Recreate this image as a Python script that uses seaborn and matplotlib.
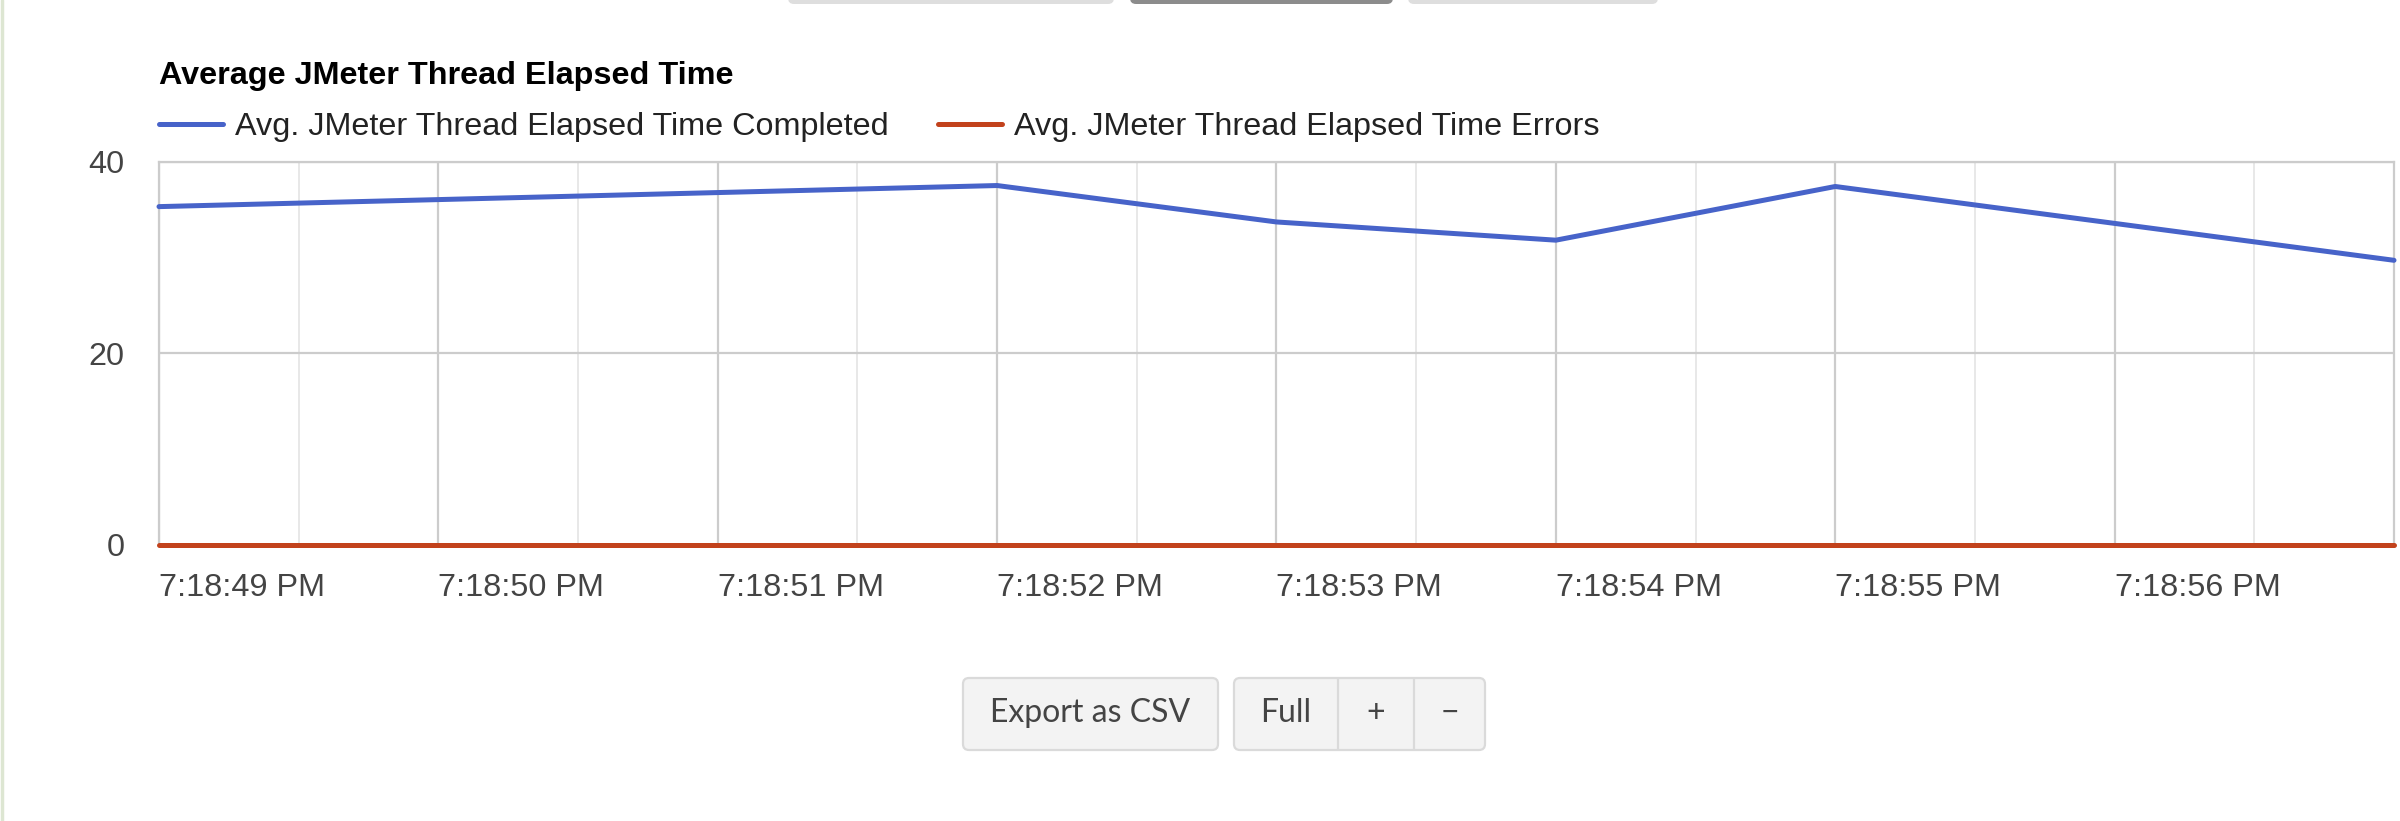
import pandas as pd
import matplotlib.pyplot as plt
from matplotlib.ticker import AutoMinorLocator
from matplotlib.patches import FancyBboxPatch
import seaborn as sns

# values
times = ['19:18:49', '19:18:52', '19:18:53', '19:18:54', '19:18:55', '19:18:57']
completed = [35.3, 37.5, 33.7, 31.8, 37.4, 29.7]
errors = [0, 0, 0, 0, 0, 0]
series_names = ['Avg. JMeter Thread Elapsed Time Completed',
                'Avg. JMeter Thread Elapsed Time Errors']
tick_times = ['19:18:49', '19:18:50', '19:18:51', '19:18:52',
              '19:18:53', '19:18:54', '19:18:55', '19:18:56']
tick_labels = ['7:18:49 PM', '7:18:50 PM', '7:18:51 PM', '7:18:52 PM',
               '7:18:53 PM', '7:18:54 PM', '7:18:55 PM', '7:18:56 PM']
y_ticks = [0, 20, 40]
title = 'Average JMeter Thread Elapsed Time'

day = '2024-01-01 '
df = pd.DataFrame({
    'time': pd.to_datetime([day + t for t in times] * 2),
    'value': completed + errors,
    'series': [series_names[0]] * len(times) + [series_names[1]] * len(times),
})

sns.set_style('white')
plt.rcParams['font.family'] = ['Liberation Sans', 'DejaVu Sans']

fig = plt.figure(figsize=(24, 8.21), dpi=100)

# page decoration layer in pixel coordinates
bg = fig.add_axes([0, 0, 1, 1], zorder=-1)
bg.set_xlim(0, 2400)
bg.set_ylim(821, 0)
bg.axis('off')
bg.plot([2, 2], [0, 821], color='#dde6d2', lw=2.5)
for x0, x1, c in [(788, 1114, '#dedede'), (1130, 1393, '#8c8c8c'), (1408, 1658, '#dedede')]:
    bg.add_patch(FancyBboxPatch((x0 + 6, -40), x1 - x0 - 12, 38,
                                boxstyle='round,pad=6', fc=c, ec='none'))
btn = dict(boxstyle='round,pad=0,rounding_size=6', fc='#f3f3f3', ec='#dadada', lw=1.6)
bg.add_patch(FancyBboxPatch((963, 678), 255, 72, **btn))
bg.add_patch(FancyBboxPatch((1234, 678), 251, 72, **btn))
bg.plot([1338, 1338], [679, 749], color='#dadada', lw=1.6)
bg.plot([1414, 1414], [679, 749], color='#dadada', lw=1.6)
bfont = dict(family=['Lato', 'DejaVu Sans'], fontsize=23, color='#444444',
             ha='center', va='center')
bg.text(1090, 713, 'Export as CSV', **bfont)
bg.text(1286, 713, 'Full', **bfont)
bg.text(1376, 713, '+', **bfont)
bg.text(1450, 713, '\u2212', **bfont)

ax = fig.add_axes([0.06625, 0.3362, 0.93125, 0.467])
sns.lineplot(data=df, x='time', y='value', hue='series',
             palette=['#4763c9', '#c2421c'], linewidth=3.6, ax=ax)
for ln in ax.lines:
    ln.set_clip_on(False)
    ln.set_zorder(3)

ax.set_xlim(pd.Timestamp(day + '19:18:49'), pd.Timestamp(day + '19:18:57'))
ax.set_ylim(0, 40)
ax.set_xticks(pd.to_datetime([day + t for t in tick_times]))
ax.set_xticklabels(tick_labels, ha='left')
ax.xaxis.set_minor_locator(AutoMinorLocator(2))
ax.set_yticks(y_ticks)
ax.set_xlabel('')
ax.set_ylabel('')
ax.tick_params(axis='x', length=0, pad=20, labelsize=23.3, labelcolor='#444444')
ax.tick_params(axis='y', length=0, pad=25, labelsize=23.3, labelcolor='#444444')
ax.tick_params(which='minor', length=0)
ax.grid(axis='y', color='#cccccc', lw=1.6)
ax.grid(axis='x', which='major', color='#cccccc', lw=1.6)
ax.grid(axis='x', which='minor', color='#e8e8e8', lw=1.4)
ax.set_axisbelow(True)
for s in ax.spines.values():
    s.set_color('#cccccc')
    s.set_linewidth(1.6)

handles, labels = ax.get_legend_handles_labels()
ax.legend(handles, labels, loc='center left', bbox_to_anchor=(0.06625, 0.8453),
          bbox_transform=fig.transFigure, ncol=2, frameon=False, fontsize=23.3,
          borderpad=0, borderaxespad=0, handlelength=1.98, handletextpad=0.37,
          columnspacing=1.52, labelcolor='#222222')

fig.text(0.06625, 1 - 84 / 821, title, fontsize=23.3, fontweight='bold',
         color='black', va='baseline', ha='left')

plt.savefig('out.png', dpi=100)
